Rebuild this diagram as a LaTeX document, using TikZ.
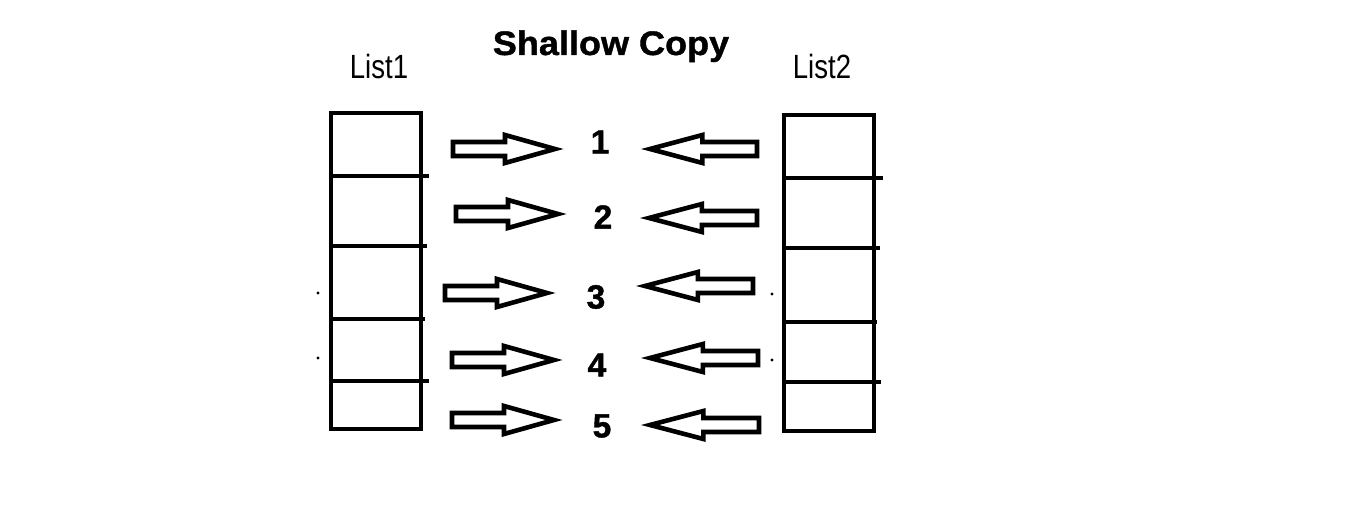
\documentclass[tikz,border=0pt]{standalone}
\usepackage{fontspec}
\setmainfont{Liberation Sans}
\newfontfamily\titlefont[FakeStretch=1.06,FakeBold=1.2]{Liberation Sans Bold}
\newfontfamily\numfont[FakeBold=1.2]{Liberation Sans Bold}
\newfontfamily\listfont[FakeStretch=0.82]{Liberation Sans}
\usetikzlibrary{calc}
\newcommand{\makearrow}[4]{
	\coordinate (#1t) at (#2,#4);
	\coordinate (#1p) at (#3,#4);
	\coordinate (#1b) at ($(#1t)!0.51!(#1p)$);
	\draw[blockarrow] ($(#1t)+(0,7)$) -- ($(#1b)+(0,7)$) -- ($(#1b)+(0,14)$) -- (#1p)
		-- ($(#1b)+(0,-14)$) -- ($(#1b)+(0,-7)$) -- ($(#1t)+(0,-7)$) -- cycle;
}

\begin{document}
\begin{tikzpicture}[x=0.5pt,y=-0.5pt,
	cell/.style={line width=2.4pt},
	blockarrow/.style={line width=2.3pt, line join=miter},
	number/.style={font=\numfont\fontsize{16.75}{18}\selectfont, inner sep=0pt}]
	\useasboundingbox (0,0) rectangle (1350,506);

	\node [font=\titlefont\fontsize{17}{20}\selectfont, anchor=base, inner sep=0pt] (title) at (611,55) {Shallow Copy};
	\node [font=\listfont\fontsize{16.8}{20}\selectfont, anchor=base, inner sep=0pt] (name1) at (379,79) {List1};
	\node [font=\listfont\fontsize{16.8}{20}\selectfont, anchor=base, inner sep=0pt] (name2) at (822,79) {List2};

	% first list
	\draw[cell] (331,113) rectangle (421,429);
	\draw[cell] (331,176) -- (429,176);
	\draw[cell] (331,246) -- (427,246);
	\draw[cell] (331,319) -- (425,319);
	\draw[cell] (331,381) -- (429,381);

	% second list
	\draw[cell] (784,115) rectangle (874,431);
	\draw[cell] (784,178) -- (883,178);
	\draw[cell] (784,248) -- (880,248);
	\draw[cell] (784,322) -- (877,322);
	\draw[cell] (784,382) -- (881,382);

	\fill (318,293) circle (1.6);
	\fill (318,358) circle (1.6);
	\fill (772,294) circle (1.6);
	\fill (772,360) circle (1.6);

	\node [number] (n1) at (600,142) {1};
	\node [number] (n2) at (603,217) {2};
	\node [number] (n3) at (596,297) {3};
	\node [number] (n4) at (597,365) {4};
	\node [number] (n5) at (602,426) {5};

	\makearrow{a1}{453}{555}{149}
	\makearrow{a2}{456}{558}{214}
	\makearrow{a3}{445}{547}{293}
	\makearrow{a4}{452}{554}{360}
	\makearrow{a5}{452}{554}{420}

	\makearrow{b1}{757}{650}{149}
	\makearrow{b2}{757}{649}{218}
	\makearrow{b3}{753}{645}{286}
	\makearrow{b4}{758}{650}{358}
	\makearrow{b5}{759}{650}{425}

	\end{tikzpicture}
\end{document}
